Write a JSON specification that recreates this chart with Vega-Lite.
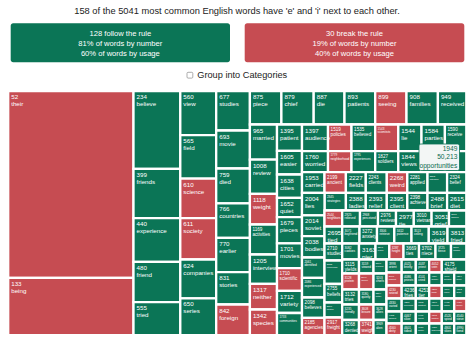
{
"$schema":"https://vega.github.io/schema/vega-lite/v6.json",
"width":474,"height":341,
"autosize":{"type":"fit","contains":"padding"},
"padding":0,
"background":"white",
"config":{"view":{"stroke":null},"text":{"font":"Liberation Sans"}},
"datasets":{"cells":[
{"rank":52,"word":"their","rule":"break","x0":8.2,"x1":133.5,"y0":91.2,"y1":277.8},
{"rank":133,"word":"being","rule":"break","x0":8.2,"x1":133.5,"y0":277.8,"y1":335.2},
{"rank":234,"word":"believe","rule":"follow","x0":133.5,"x1":180.3,"y0":91.2,"y1":168.9},
{"rank":399,"word":"friends","rule":"follow","x0":133.5,"x1":180.3,"y0":168.9,"y1":218.1},
{"rank":440,"word":"experience","rule":"follow","x0":133.5,"x1":180.3,"y0":218.1,"y1":261.9},
{"rank":480,"word":"friend","rule":"follow","x0":133.5,"x1":180.3,"y0":261.9,"y1":302.2},
{"rank":555,"word":"tried","rule":"follow","x0":133.5,"x1":180.3,"y0":302.2,"y1":335.2},
{"rank":560,"word":"view","rule":"follow","x0":180.3,"x1":216.2,"y0":91.2,"y1":135.1},
{"rank":565,"word":"field","rule":"follow","x0":180.3,"x1":216.2,"y0":135.1,"y1":178.7},
{"rank":610,"word":"science","rule":"break","x0":180.3,"x1":216.2,"y0":178.7,"y1":218.2},
{"rank":611,"word":"society","rule":"break","x0":180.3,"x1":216.2,"y0":218.2,"y1":259.5},
{"rank":624,"word":"companies","rule":"follow","x0":180.3,"x1":216.2,"y0":259.5,"y1":298.3},
{"rank":650,"word":"series","rule":"follow","x0":180.3,"x1":216.2,"y0":298.3,"y1":335.2},
{"rank":677,"word":"studies","rule":"follow","x0":216.2,"x1":249.9,"y0":91.2,"y1":130.5},
{"rank":693,"word":"movie","rule":"follow","x0":216.2,"x1":249.9,"y0":130.5,"y1":168.5},
{"rank":759,"word":"died","rule":"follow","x0":216.2,"x1":249.9,"y0":168.5,"y1":203.3},
{"rank":766,"word":"countries","rule":"follow","x0":216.2,"x1":249.9,"y0":203.3,"y1":237.9},
{"rank":770,"word":"earlier","rule":"follow","x0":216.2,"x1":249.9,"y0":237.9,"y1":272.2},
{"rank":831,"word":"stories","rule":"follow","x0":216.2,"x1":249.9,"y0":272.2,"y1":304.5},
{"rank":842,"word":"foreign","rule":"break","x0":216.2,"x1":249.9,"y0":304.5,"y1":335.2},
{"rank":875,"word":"piece","rule":"follow","x0":249.9,"x1":281.4,"y0":91.2,"y1":124.5},
{"rank":879,"word":"chief","rule":"follow","x0":281.4,"x1":313.7,"y0":91.2,"y1":124.5},
{"rank":887,"word":"die","rule":"follow","x0":313.7,"x1":344.5,"y0":91.2,"y1":124.5},
{"rank":893,"word":"patients","rule":"follow","x0":344.5,"x1":375.2,"y0":91.2,"y1":124.5},
{"rank":899,"word":"seeing","rule":"break","x0":375.2,"x1":406.5,"y0":91.2,"y1":124.5},
{"rank":908,"word":"families","rule":"follow","x0":406.5,"x1":437.9,"y0":91.2,"y1":124.5},
{"rank":949,"word":"received","rule":"follow","x0":437.9,"x1":466.3,"y0":91.2,"y1":124.5},
{"rank":965,"word":"married","rule":"follow","x0":249.9,"x1":277,"y0":124.5,"y1":159.6},
{"rank":1008,"word":"review","rule":"follow","x0":249.9,"x1":277,"y0":159.6,"y1":193.9},
{"rank":1118,"word":"weight","rule":"break","x0":249.9,"x1":277,"y0":193.9,"y1":224.5},
{"rank":1169,"word":"activities","rule":"follow","x0":249.9,"x1":277,"y0":224.5,"y1":254.5},
{"rank":1205,"word":"interview","rule":"follow","x0":249.9,"x1":277,"y0":254.5,"y1":283.8},
{"rank":1317,"word":"neither","rule":"break","x0":249.9,"x1":277,"y0":283.8,"y1":309.5},
{"rank":1342,"word":"species","rule":"break","x0":249.9,"x1":277,"y0":309.5,"y1":335.2},
{"rank":1395,"word":"patient","rule":"follow","x0":277,"x1":302,"y0":124.5,"y1":150.9},
{"rank":1605,"word":"easier","rule":"follow","x0":277,"x1":302,"y0":150.9,"y1":174.5},
{"rank":1638,"word":"cities","rule":"follow","x0":277,"x1":302,"y0":174.5,"y1":197.9},
{"rank":1652,"word":"quiet","rule":"follow","x0":277,"x1":302,"y0":197.9,"y1":217.2},
{"rank":1679,"word":"pieces","rule":"follow","x0":277,"x1":302,"y0":217.2,"y1":243.3},
{"rank":1701,"word":"movies","rule":"follow","x0":277,"x1":302,"y0":243.3,"y1":268.2},
{"rank":1710,"word":"scientific","rule":"break","x0":277,"x1":302,"y0":268.2,"y1":290.9},
{"rank":1712,"word":"variety","rule":"follow","x0":277,"x1":302,"y0":290.9,"y1":313},
{"rank":1733,"word":"communities","rule":"follow","x0":277,"x1":302,"y0":313,"y1":335.2},
{"rank":1397,"word":"audience","rule":"follow","x0":302,"x1":328,"y0":124.5,"y1":151.2},
{"rank":1519,"word":"policies","rule":"break","x0":328,"x1":351.5,"y0":124.5,"y1":151.2},
{"rank":1535,"word":"believed","rule":"follow","x0":351.5,"x1":375.2,"y0":124.5,"y1":151.2},
{"rank":1543,"word":"scientists","rule":"break","x0":375.2,"x1":398.3,"y0":124.5,"y1":151.2},
{"rank":1544,"word":"lie","rule":"follow","x0":398.3,"x1":421.5,"y0":124.5,"y1":151.2},
{"rank":1584,"word":"parties","rule":"follow","x0":421.5,"x1":444.9,"y0":124.5,"y1":151.2},
{"rank":1590,"word":"receive","rule":"follow","x0":444.9,"x1":466.3,"y0":124.5,"y1":151.2},
{"rank":1760,"word":"worried","rule":"follow","x0":302,"x1":328,"y0":151.2,"y1":172.2},
{"rank":1779,"word":"neighborhood","rule":"break","x0":328,"x1":351.5,"y0":151.2,"y1":172.2},
{"rank":1795,"word":"experiences","rule":"follow","x0":351.5,"x1":375.2,"y0":151.2,"y1":172.2},
{"rank":1827,"word":"soldiers","rule":"follow","x0":375.2,"x1":398.3,"y0":151.2,"y1":172.2},
{"rank":1844,"word":"views","rule":"follow","x0":398.3,"x1":421.5,"y0":151.2,"y1":172.2},
{"rank":1881,"word":"supplies","rule":"follow","x0":421.5,"x1":444.9,"y0":151.2,"y1":172.2},
{"rank":1949,"word":"opportunities","rule":"follow","x0":444.9,"x1":466.3,"y0":151.2,"y1":172.2},
{"rank":1953,"word":"carried","rule":"follow","x0":302,"x1":324.5,"y0":172.2,"y1":192.8},
{"rank":2199,"word":"ancient","rule":"break","x0":324.5,"x1":345.9,"y0":172.2,"y1":192.8},
{"rank":2227,"word":"fields","rule":"follow","x0":345.9,"x1":365.8,"y0":172.2,"y1":192.8},
{"rank":2243,"word":"clients","rule":"follow","x0":365.8,"x1":386.8,"y0":172.2,"y1":192.8},
{"rank":2268,"word":"weird","rule":"break","x0":386.8,"x1":407.3,"y0":172.2,"y1":192.8},
{"rank":2281,"word":"applied","rule":"follow","x0":407.3,"x1":427.5,"y0":172.2,"y1":192.8},
{"rank":2312,"word":"authorities","rule":"follow","x0":427.5,"x1":447.1,"y0":172.2,"y1":192.8},
{"rank":2324,"word":"belief","rule":"follow","x0":447.1,"x1":466.3,"y0":172.2,"y1":192.8},
{"rank":2345,"word":"strategies","rule":"follow","x0":324.5,"x1":345.9,"y0":192.8,"y1":210.5},
{"rank":2388,"word":"ladies","rule":"follow","x0":345.9,"x1":365.8,"y0":192.8,"y1":210.5},
{"rank":2393,"word":"relief","rule":"follow","x0":365.8,"x1":386.8,"y0":192.8,"y1":210.5},
{"rank":2395,"word":"client","rule":"follow","x0":386.8,"x1":407.3,"y0":192.8,"y1":210.5},
{"rank":2398,"word":"achieve","rule":"follow","x0":407.3,"x1":427.5,"y0":192.8,"y1":210.5},
{"rank":2488,"word":"brief","rule":"follow","x0":427.5,"x1":447.1,"y0":192.8,"y1":210.5},
{"rank":2615,"word":"diet","rule":"follow","x0":447.1,"x1":466.3,"y0":192.8,"y1":210.5},
{"rank":2004,"word":"lies","rule":"follow","x0":302,"x1":324.5,"y0":192.8,"y1":215.3},
{"rank":2014,"word":"soviet","rule":"follow","x0":302,"x1":324.5,"y0":215.3,"y1":236.2},
{"rank":2038,"word":"bodies","rule":"follow","x0":302,"x1":324.5,"y0":236.2,"y1":257.5},
{"rank":2061,"word":"identified","rule":"follow","x0":302,"x1":324.5,"y0":257.5,"y1":277.8},
{"rank":2086,"word":"experienced","rule":"follow","x0":302,"x1":324.5,"y0":277.8,"y1":297.5},
{"rank":2098,"word":"believes","rule":"follow","x0":302,"x1":324.5,"y0":297.5,"y1":317.8},
{"rank":2185,"word":"agencies","rule":"break","x0":302,"x1":324.5,"y0":317.8,"y1":335.2},
{"rank":2544,"word":"neighbors","rule":"break","x0":324.5,"x1":342.2,"y0":210.5,"y1":226.5},
{"rank":2695,"word":"tied","rule":"follow","x0":324.5,"x1":342.2,"y0":226.5,"y1":243.5},
{"rank":2710,"word":"studied","rule":"follow","x0":324.5,"x1":342.2,"y0":243.5,"y1":260.5},
{"rank":2732,"word":"experiencing","rule":"follow","x0":324.5,"x1":342.2,"y0":260.5,"y1":284},
{"rank":2755,"word":"beliefs","rule":"follow","x0":324.5,"x1":342.2,"y0":284,"y1":302.5},
{"rank":2866,"word":"facilities","rule":"follow","x0":324.5,"x1":342.2,"y0":302.5,"y1":317.5},
{"rank":2917,"word":"freight","rule":"break","x0":324.5,"x1":342.2,"y0":317.5,"y1":335.2},
{"rank":2925,"word":"relieved","rule":"follow","x0":342.2,"x1":360,"y0":210.5,"y1":226.5},
{"rank":2968,"word":"perceived","rule":"follow","x0":360,"x1":378,"y0":210.5,"y1":226.5},
{"rank":2976,"word":"reviews","rule":"follow","x0":378,"x1":396,"y0":210.5,"y1":226.5},
{"rank":2977,"word":"tie","rule":"follow","x0":396,"x1":413.8,"y0":210.5,"y1":226.5},
{"rank":3010,"word":"vietnam","rule":"follow","x0":413.8,"x1":431.6,"y0":210.5,"y1":226.5},
{"rank":3051,"word":"grief","rule":"follow","x0":431.6,"x1":449,"y0":210.5,"y1":226.5},
{"rank":3078,"word":"girlfriend","rule":"follow","x0":449,"x1":466.3,"y0":210.5,"y1":226.5},
{"rank":3071,"word":"boyfriend","rule":"follow","x0":342.2,"x1":359.5,"y0":226.5,"y1":243.5},
{"rank":3272,"word":"anxiety","rule":"follow","x0":359.5,"x1":377,"y0":226.5,"y1":243.5},
{"rank":3306,"word":"retrieve","rule":"follow","x0":377,"x1":394.3,"y0":226.5,"y1":243.5},
{"rank":3412,"word":"patience","rule":"follow","x0":394.3,"x1":411.5,"y0":226.5,"y1":243.5},
{"rank":3513,"word":"ceiling","rule":"follow","x0":411.5,"x1":428.8,"y0":226.5,"y1":243.5},
{"rank":3619,"word":"yield","rule":"follow","x0":428.8,"x1":447.5,"y0":226.5,"y1":243.5},
{"rank":3813,"word":"fried","rule":"follow","x0":447.5,"x1":466.3,"y0":226.5,"y1":243.5},
{"rank":3082,"word":"cookies","rule":"follow","x0":342.2,"x1":359,"y0":243.5,"y1":259.5},
{"rank":3163,"word":"pier","rule":"follow","x0":359,"x1":375.5,"y0":243.5,"y1":259.5},
{"rank":3241,"word":"replied","rule":"follow","x0":375.5,"x1":389.3,"y0":243.5,"y1":259.5},
{"rank":3287,"word":"height","rule":"break","x0":389.3,"x1":403.5,"y0":243.5,"y1":259.5},
{"rank":3669,"word":"ties","rule":"follow","x0":403.5,"x1":419,"y0":243.5,"y1":259.5},
{"rank":3702,"word":"niece","rule":"follow","x0":419,"x1":435.5,"y0":243.5,"y1":259.5},
{"rank":3725,"word":"fierce","rule":"follow","x0":435.5,"x1":451,"y0":243.5,"y1":259.5},
{"rank":3781,"word":"mischief","rule":"follow","x0":451,"x1":466.3,"y0":243.5,"y1":259.5},
{"rank":3115,"word":"yields","rule":"follow","x0":342.2,"x1":359,"y0":259.5,"y1":273.5},
{"rank":3159,"word":"viewed","rule":"follow","x0":359,"x1":373.5,"y0":259.5,"y1":273.5},
{"rank":3190,"word":"reviewed","rule":"follow","x0":373.5,"x1":386.5,"y0":259.5,"y1":273.5},
{"rank":3128,"word":"protein","rule":"break","x0":342.2,"x1":359,"y0":273.5,"y1":289.5},
{"rank":3146,"word":"efficient","rule":"break","x0":359,"x1":373.5,"y0":273.5,"y1":289.5},
{"rank":3203,"word":"chiefs","rule":"follow","x0":373.5,"x1":386.5,"y0":273.5,"y1":289.5},
{"rank":3132,"word":"tries","rule":"follow","x0":342.2,"x1":359,"y0":289.5,"y1":304.5},
{"rank":3180,"word":"quietly","rule":"follow","x0":359,"x1":373.5,"y0":289.5,"y1":304.5},
{"rank":3214,"word":"dietary","rule":"follow","x0":373.5,"x1":386.5,"y0":289.5,"y1":304.5},
{"rank":3235,"word":"friendly","rule":"follow","x0":342.2,"x1":359,"y0":304.5,"y1":320},
{"rank":3608,"word":"leisure","rule":"break","x0":359,"x1":373.5,"y0":304.5,"y1":320},
{"rank":3628,"word":"allies","rule":"follow","x0":373.5,"x1":386.5,"y0":304.5,"y1":320},
{"rank":3268,"word":"denied","rule":"follow","x0":342.2,"x1":359,"y0":320,"y1":335.2},
{"rank":3741,"word":"weigh","rule":"break","x0":359,"x1":373.5,"y0":320,"y1":335.2},
{"rank":3969,"word":"alien","rule":"follow","x0":373.5,"x1":386.5,"y0":320,"y1":335.2},
{"rank":3998,"word":"orient","rule":"follow","x0":386.5,"x1":401.7,"y0":259.5,"y1":272.5},
{"rank":4025,"word":"briefly","rule":"follow","x0":401.7,"x1":415.8,"y0":259.5,"y1":272.5},
{"rank":4037,"word":"priest","rule":"follow","x0":415.8,"x1":429.2,"y0":259.5,"y1":272.5},
{"rank":4052,"word":"vein","rule":"break","x0":429.2,"x1":441.8,"y0":259.5,"y1":272.5},
{"rank":4175,"word":"shield","rule":"follow","x0":441.8,"x1":466.3,"y0":259.5,"y1":272.5},
{"rank":3978,"word":"sufficient","rule":"break","x0":386.5,"x1":401.7,"y0":272.5,"y1":285.5},
{"rank":4086,"word":"priests","rule":"follow","x0":401.7,"x1":415.8,"y0":272.5,"y1":285.5},
{"rank":4101,"word":"cried","rule":"follow","x0":415.8,"x1":429.2,"y0":272.5,"y1":285.5},
{"rank":4129,"word":"supplier","rule":"follow","x0":429.2,"x1":441.8,"y0":272.5,"y1":285.5},
{"rank":4190,"word":"hierarchy","rule":"follow","x0":441.8,"x1":454.2,"y0":272.5,"y1":285.5},
{"rank":4214,"word":"pierce","rule":"follow","x0":454.2,"x1":466.3,"y0":272.5,"y1":285.5},
{"rank":4230,"word":"seized","rule":"break","x0":386.5,"x1":401.7,"y0":285.5,"y1":298.5},
{"rank":4236,"word":"fries","rule":"follow","x0":401.7,"x1":415.8,"y0":285.5,"y1":298.5},
{"rank":4251,"word":"tier","rule":"follow","x0":415.8,"x1":429.2,"y0":285.5,"y1":298.5},
{"rank":4268,"word":"eighth","rule":"break","x0":429.2,"x1":441.8,"y0":285.5,"y1":298.5},
{"rank":4290,"word":"relieve","rule":"follow","x0":441.8,"x1":454.2,"y0":285.5,"y1":298.5},
{"rank":4312,"word":"diesel","rule":"follow","x0":454.2,"x1":466.3,"y0":285.5,"y1":298.5},
{"rank":4330,"word":"varied","rule":"follow","x0":386.5,"x1":401.7,"y0":298.5,"y1":311.5},
{"rank":4358,"word":"convenient","rule":"follow","x0":401.7,"x1":415.8,"y0":298.5,"y1":311.5},
{"rank":4372,"word":"impatient","rule":"follow","x0":415.8,"x1":429.2,"y0":298.5,"y1":311.5},
{"rank":4390,"word":"recipient","rule":"follow","x0":429.2,"x1":441.8,"y0":298.5,"y1":311.5},
{"rank":4412,"word":"unified","rule":"follow","x0":441.8,"x1":454.2,"y0":298.5,"y1":311.5},
{"rank":4430,"word":"seizure","rule":"break","x0":454.2,"x1":466.3,"y0":298.5,"y1":311.5},
{"rank":4452,"word":"obedient","rule":"follow","x0":386.5,"x1":401.7,"y0":311.5,"y1":323.5},
{"rank":4467,"word":"skier","rule":"follow","x0":401.7,"x1":415.8,"y0":311.5,"y1":323.5},
{"rank":4481,"word":"lenient","rule":"follow","x0":415.8,"x1":429.2,"y0":311.5,"y1":323.5},
{"rank":4502,"word":"eighteen","rule":"break","x0":429.2,"x1":441.8,"y0":311.5,"y1":323.5},
{"rank":4520,"word":"spied","rule":"follow","x0":441.8,"x1":454.2,"y0":311.5,"y1":323.5},
{"rank":4540,"word":"sieve","rule":"follow","x0":454.2,"x1":466.3,"y0":311.5,"y1":323.5},
{"rank":4560,"word":"deity","rule":"break","x0":386.5,"x1":401.7,"y0":323.5,"y1":335.2},
{"rank":4601,"word":"tidied","rule":"follow","x0":401.7,"x1":415.8,"y0":323.5,"y1":335.2},
{"rank":4650,"word":"quieter","rule":"follow","x0":415.8,"x1":429.2,"y0":323.5,"y1":335.2},
{"rank":4720,"word":"achievements","rule":"follow","x0":429.2,"x1":441.8,"y0":323.5,"y1":335.2},
{"rank":4801,"word":"skies","rule":"follow","x0":441.8,"x1":454.2,"y0":323.5,"y1":335.2},
{"rank":4990,"word":"fiend","rule":"follow","x0":454.2,"x1":466.3,"y0":323.5,"y1":335.2}
]},
"layer":[
{"data":{"values":[
 {"rule":"follow","x0":10.7,"x1":230,"y0":23.3,"y1":62.3,"cx":120.35,"label":"128 follow the rule\n81% of words by number\n60% of words by usage"},
 {"rule":"break","x0":244.7,"x1":464.3,"y0":23.3,"y1":62.3,"cx":354.5,"label":"30 break the rule\n19% of words by number\n40% of words by usage"}]},
 "layer":[
  {"mark":{"type":"rect","cornerRadius":2.5},
   "encoding":{"x":{"field":"x0","type":"quantitative","scale":{"domain":[0,474],"nice":false,"zero":false},"axis":null},"x2":{"field":"x1"},
    "y":{"field":"y0","type":"quantitative","scale":{"domain":[0,341],"nice":false,"zero":false,"reverse":true},"axis":null},"y2":{"field":"y1"},
    "color":{"field":"rule","type":"nominal","scale":{"domain":["follow","break"],"range":["#0b7556","#c64c52"]},"legend":null}}},
  {"mark":{"type":"text","align":"center","baseline":"alphabetic","fontSize":7.6,"lineHeight":10,"lineBreak":"\n","color":"white","dy":12.4},
   "encoding":{"x":{"field":"cx","type":"quantitative","scale":{"domain":[0,474],"nice":false,"zero":false},"axis":null},
    "y":{"field":"y0","type":"quantitative","scale":{"domain":[0,341],"nice":false,"zero":false,"reverse":true},"axis":null},
    "text":{"field":"label"}}}
 ]},
{"data":{"values":[{"x":237,"y":14,"label":"158 of the 5041 most common English words have 'e' and 'i' next to each other."}]},
 "mark":{"type":"text","align":"center","baseline":"alphabetic","fontSize":9.3,"color":"#222222"},
 "encoding":{"x":{"field":"x","type":"quantitative","scale":{"domain":[0,474],"nice":false,"zero":false},"axis":null},
  "y":{"field":"y","type":"quantitative","scale":{"domain":[0,341],"nice":false,"zero":false,"reverse":true},"axis":null},
  "text":{"field":"label"}}},
{"data":{"values":[{"x0":187,"x1":192.8,"y0":72.3,"y1":78.1}]},
 "mark":{"type":"rect","fill":"white","stroke":"#8a8a8a","strokeWidth":0.7,"cornerRadius":1},
 "encoding":{"x":{"field":"x0","type":"quantitative","scale":{"domain":[0,474],"nice":false,"zero":false},"axis":null},"x2":{"field":"x1"},
  "y":{"field":"y0","type":"quantitative","scale":{"domain":[0,341],"nice":false,"zero":false,"reverse":true},"axis":null},"y2":{"field":"y1"}}},
{"data":{"values":[{"x":197.3,"y":78.3,"label":"Group into Categories"}]},
 "mark":{"type":"text","align":"left","baseline":"alphabetic","fontSize":9.2,"color":"#222222"},
 "encoding":{"x":{"field":"x","type":"quantitative","scale":{"domain":[0,474],"nice":false,"zero":false},"axis":null},
  "y":{"field":"y","type":"quantitative","scale":{"domain":[0,341],"nice":false,"zero":false,"reverse":true},"axis":null},
  "text":{"field":"label"}}},
{"data":{"name":"cells"},
 "mark":{"type":"rect","stroke":"white","strokeWidth":2.3},
 "encoding":{"x":{"field":"x0","type":"quantitative","scale":{"domain":[0,474],"nice":false,"zero":false},"axis":null},"x2":{"field":"x1"},
  "y":{"field":"y0","type":"quantitative","scale":{"domain":[0,341],"nice":false,"zero":false,"reverse":true},"axis":null},"y2":{"field":"y1"},
  "color":{"field":"rule","type":"nominal","scale":{"domain":["follow","break"],"range":["#0b7556","#c64c52"]},"legend":null}}},
{"data":{"name":"cells"},
 "transform":[{"filter":"datum.rank != 1881 && datum.rank != 1949"},{"filter":"min((datum.x1-datum.x0-4)/max(0.48*length(datum.word),2.3),(datum.y1-datum.y0-3)/2.4) >= 5.3"}],
 "layer":[
  {"mark":{"type":"text","align":"left","baseline":"alphabetic","fontSize":6.2,"dx":3,"dy":8,"color":"white"},
   "encoding":{"x":{"field":"x0","type":"quantitative","scale":{"domain":[0,474],"nice":false,"zero":false},"axis":null},
    "y":{"field":"y0","type":"quantitative","scale":{"domain":[0,341],"nice":false,"zero":false,"reverse":true},"axis":null},
    "text":{"field":"rank","type":"nominal"}}},
  {"mark":{"type":"text","align":"left","baseline":"alphabetic","fontSize":6.2,"dx":3,"dy":15,"color":"white"},
   "encoding":{"x":{"field":"x0","type":"quantitative","scale":{"domain":[0,474],"nice":false,"zero":false},"axis":null},
    "y":{"field":"y0","type":"quantitative","scale":{"domain":[0,341],"nice":false,"zero":false,"reverse":true},"axis":null},
    "text":{"field":"word","type":"nominal"}}}
 ]},
{"data":{"name":"cells"},
 "transform":[{"filter":"datum.rank != 1881 && datum.rank != 1949"},{"filter":"min((datum.x1-datum.x0-4)/max(0.48*length(datum.word),2.3),(datum.y1-datum.y0-3)/2.4) >= 4.0 && min((datum.x1-datum.x0-4)/max(0.48*length(datum.word),2.3),(datum.y1-datum.y0-3)/2.4) < 5.3"}],
 "layer":[
  {"mark":{"type":"text","align":"left","baseline":"alphabetic","fontSize":4.6,"dx":2.6,"dy":6.3,"color":"white"},
   "encoding":{"x":{"field":"x0","type":"quantitative","scale":{"domain":[0,474],"nice":false,"zero":false},"axis":null},
    "y":{"field":"y0","type":"quantitative","scale":{"domain":[0,341],"nice":false,"zero":false,"reverse":true},"axis":null},
    "text":{"field":"rank","type":"nominal"}}},
  {"mark":{"type":"text","align":"left","baseline":"alphabetic","fontSize":4.6,"dx":2.6,"dy":11.6,"color":"white"},
   "encoding":{"x":{"field":"x0","type":"quantitative","scale":{"domain":[0,474],"nice":false,"zero":false},"axis":null},
    "y":{"field":"y0","type":"quantitative","scale":{"domain":[0,341],"nice":false,"zero":false,"reverse":true},"axis":null},
    "text":{"field":"word","type":"nominal"}}}
 ]},
{"data":{"name":"cells"},
 "transform":[{"filter":"datum.rank != 1881 && datum.rank != 1949"},{"filter":"min((datum.x1-datum.x0-4)/max(0.48*length(datum.word),2.3),(datum.y1-datum.y0-3)/2.4) >= 3.0 && min((datum.x1-datum.x0-4)/max(0.48*length(datum.word),2.3),(datum.y1-datum.y0-3)/2.4) < 4.0"}],
 "layer":[
  {"mark":{"type":"text","align":"left","baseline":"alphabetic","fontSize":3.1,"dx":2.4,"dy":5,"color":"white"},
   "encoding":{"x":{"field":"x0","type":"quantitative","scale":{"domain":[0,474],"nice":false,"zero":false},"axis":null},
    "y":{"field":"y0","type":"quantitative","scale":{"domain":[0,341],"nice":false,"zero":false,"reverse":true},"axis":null},
    "text":{"field":"rank","type":"nominal"}}},
  {"mark":{"type":"text","align":"left","baseline":"alphabetic","fontSize":3.1,"dx":2.4,"dy":8.6,"color":"white"},
   "encoding":{"x":{"field":"x0","type":"quantitative","scale":{"domain":[0,474],"nice":false,"zero":false},"axis":null},
    "y":{"field":"y0","type":"quantitative","scale":{"domain":[0,341],"nice":false,"zero":false,"reverse":true},"axis":null},
    "text":{"field":"word","type":"nominal"}}}
 ]},
{"data":{"name":"cells"},
 "transform":[{"filter":"datum.rank != 1881 && datum.rank != 1949"},{"filter":"min((datum.x1-datum.x0-4)/max(0.48*length(datum.word),2.3),(datum.y1-datum.y0-3)/2.4) < 3.0"}],
 "layer":[
  {"mark":{"type":"text","align":"left","baseline":"alphabetic","fontSize":2.4,"dx":2.2,"dy":4.6,"color":"white"},
   "encoding":{"x":{"field":"x0","type":"quantitative","scale":{"domain":[0,474],"nice":false,"zero":false},"axis":null},
    "y":{"field":"y0","type":"quantitative","scale":{"domain":[0,341],"nice":false,"zero":false,"reverse":true},"axis":null},
    "text":{"field":"rank","type":"nominal"}}},
  {"mark":{"type":"text","align":"left","baseline":"alphabetic","fontSize":1.9,"dx":2.2,"dy":7.6,"color":"white"},
   "encoding":{"x":{"field":"x0","type":"quantitative","scale":{"domain":[0,474],"nice":false,"zero":false},"axis":null},
    "y":{"field":"y0","type":"quantitative","scale":{"domain":[0,341],"nice":false,"zero":false,"reverse":true},"axis":null},
    "text":{"field":"word","type":"nominal"}}}
 ]},
{"data":{"values":[{"x0":419,"x1":459.5,"y0":144,"y1":170.5,"tx":457.3,"label":"1949\n50,213\nopportunities"}]},
 "layer":[
  {"mark":{"type":"rect","fill":"#f3f6f5","stroke":"#0b7556","strokeWidth":0.8,"cornerRadius":2},
   "encoding":{"x":{"field":"x0","type":"quantitative","scale":{"domain":[0,474],"nice":false,"zero":false},"axis":null},"x2":{"field":"x1"},
    "y":{"field":"y0","type":"quantitative","scale":{"domain":[0,341],"nice":false,"zero":false,"reverse":true},"axis":null},"y2":{"field":"y1"}}},
  {"mark":{"type":"text","align":"right","baseline":"alphabetic","fontSize":6.6,"lineHeight":8.5,"lineBreak":"\n","color":"#0b6b4e","dy":6.8},
   "encoding":{"x":{"field":"tx","type":"quantitative","scale":{"domain":[0,474],"nice":false,"zero":false},"axis":null},
    "y":{"field":"y0","type":"quantitative","scale":{"domain":[0,341],"nice":false,"zero":false,"reverse":true},"axis":null},
    "text":{"field":"label"}}}
 ]}
]
}
